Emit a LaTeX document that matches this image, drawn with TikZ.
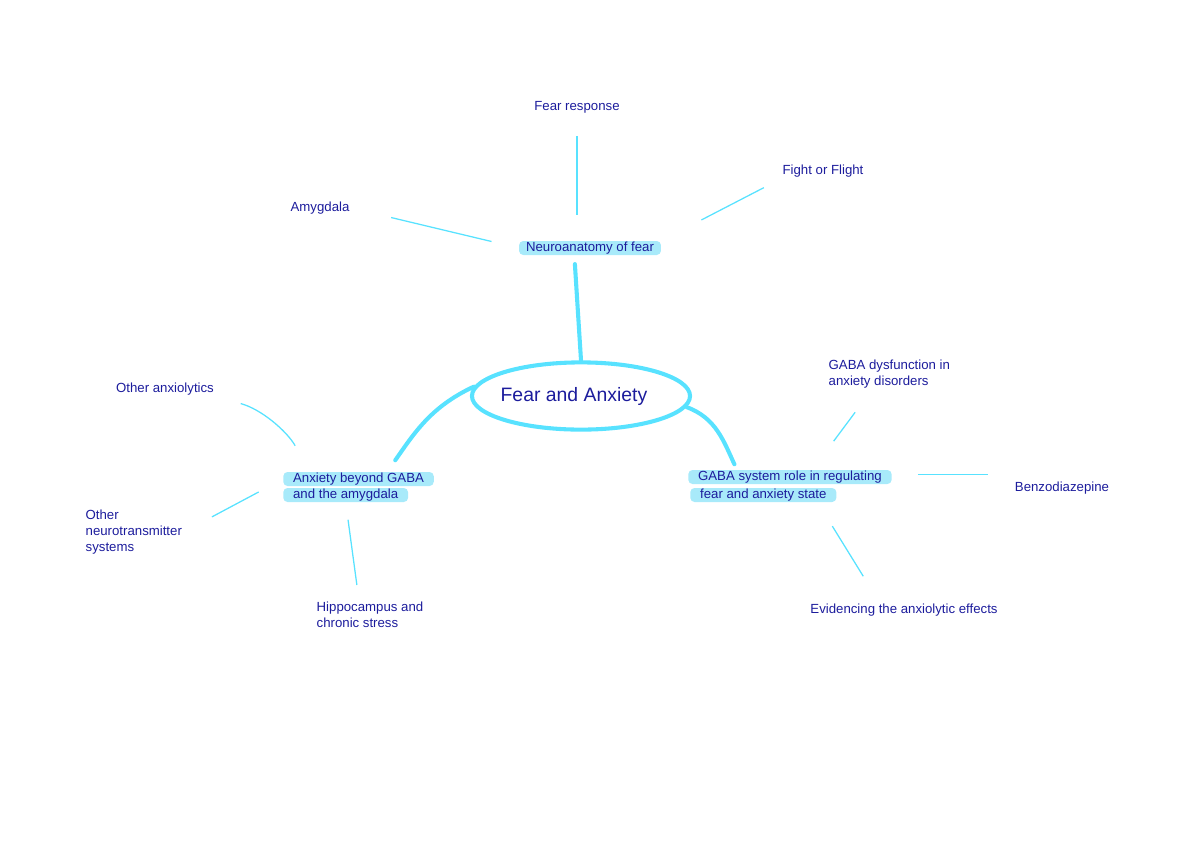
\documentclass[tikz,border=0pt]{standalone}
\usepackage{fontspec}
\setmainfont{Liberation Sans}
\usetikzlibrary{calc,shapes.geometric}
\definecolor{mapcyan}{RGB}{88,226,255}
\definecolor{maphigh}{RGB}{168,234,250}
\definecolor{mapink}{RGB}{28,28,156}

\begin{document}
\begin{tikzpicture}[x=0.025cm, y=-0.025cm,
		note/.style={text=mapink, font=\fontsize{9.4}{11.4}\selectfont, inner sep=1pt, align=left},
		leaf/.style={note, yshift=-1.4pt},
		hub/.style={note, fill=maphigh, rounded corners=3pt, inner xsep=5pt, inner ysep=0pt, minimum height=0.35cm, anchor=west},
		twig/.style={draw=mapcyan, line width=0.9pt},
		bough/.style={draw=mapcyan, line width=2.9pt, line cap=round}]
		%%%%% START %%%%%
		\useasboundingbox (0, 0) rectangle (1200, 849);
		
		\node[ellipse, draw=mapcyan, line width=2.9pt, minimum width=5.45cm, minimum height=1.68cm, text=mapink, font=\fontsize{13.8}{16}\selectfont] (fa) at (581, 396) {\hspace*{-10pt}Fear and Anxiety};
		
		\node[hub, anchor=center] (neuro) at (590, 248) {Neuroanatomy of fear};
		\node[leaf] (fresp) at (577, 105) {Fear response};
		\node[leaf] (fight) at (823, 169) {Fight or Flight};
		\node[leaf] (amyg) at (320, 206) {Amygdala};
		
		\node[hub, inner xsep=7pt] (anx1) at (283, 479) {Anxiety beyond GABA};
		\node[hub, inner xsep=7pt] (anx2) at (283, 495) {and the amygdala};
		\node[leaf] (oanx) at (165, 387) {Other anxiolytics};
		\node[leaf, anchor=west] (oneuro) at (84, 530) {Other\\neurotransmitter\\systems};
		\node[leaf, anchor=west] (hippo) at (315, 613) {Hippocampus and\\chronic stress};
		
		\node[hub, inner xsep=7pt] (gab1) at (688, 477) {GABA system role in regulating};
		\node[hub, inner xsep=7pt] (gab2) at (690, 495) {fear and anxiety state};
		\node[leaf, anchor=west] (gabdys) at (827, 372) {GABA dysfunction in\\anxiety disorders};
		\node[leaf] (benzo) at (1062, 486) {Benzodiazepine};
		\node[leaf] (evid) at (904, 608) {Evidencing the anxiolytic effects};
		
		\draw[bough, shorten >=0.22cm] (fa.north) -- ($(neuro.south west)!0.39!(neuro.south east)$);
		\draw[bough, shorten >=0.35cm] (fa.175) to[out=205, in=55] ($(anx1.north west)!0.69!(anx1.north east)$);
		\draw[bough, shorten >=0.15cm] (fa.-6) to[out=-20, in=115] ($(gab1.north west)!0.24!(gab1.north east)$);
		
		\draw[twig, shorten <=1.03cm, shorten >=0.7cm] (amyg.east) -- (neuro.west);
		\draw[twig, shorten <=0.53cm, shorten >=0.65cm] (fresp.south) -- (fresp.south |- neuro.north);
		\draw[twig, shorten <=0.48cm, shorten >=1.13cm] (fight.south west) -- (neuro.north east);
		
		\draw[twig, shorten <=0.65cm, shorten >=0.75cm] (oanx.south east) to[out=-15, in=120] ($(anx1.north west)!0.18!(anx1.north east)$);
		\draw[twig, shorten <=0.69cm, shorten >=0.8cm] (anx1.west) -- (oneuro.east);
		\draw[twig, shorten <=0.44cm, shorten >=0.39cm] (anx2.south) -- ($(hippo.north west)!0.4!(hippo.north east)$);
		
		\draw[twig, shorten <=0.7cm, shorten >=0.89cm] ($(gabdys.south west)!0.36!(gabdys.south east)$) -- ($(gab1.north west)!0.61!(gab1.north east)$);
		\draw[twig, shorten <=0.65cm, shorten >=0.63cm] ([yshift=2pt]gab1.east) -- ([yshift=2pt]gab1.east -| benzo.west);
		\draw[twig, shorten <=0.7cm, shorten >=0.76cm] ($(gab2.south west)!0.87!(gab2.south east)$) -- ($(evid.north west)!0.37!(evid.north east)$);
		%%%%% END %%%%%
\end{tikzpicture}
\end{document}
